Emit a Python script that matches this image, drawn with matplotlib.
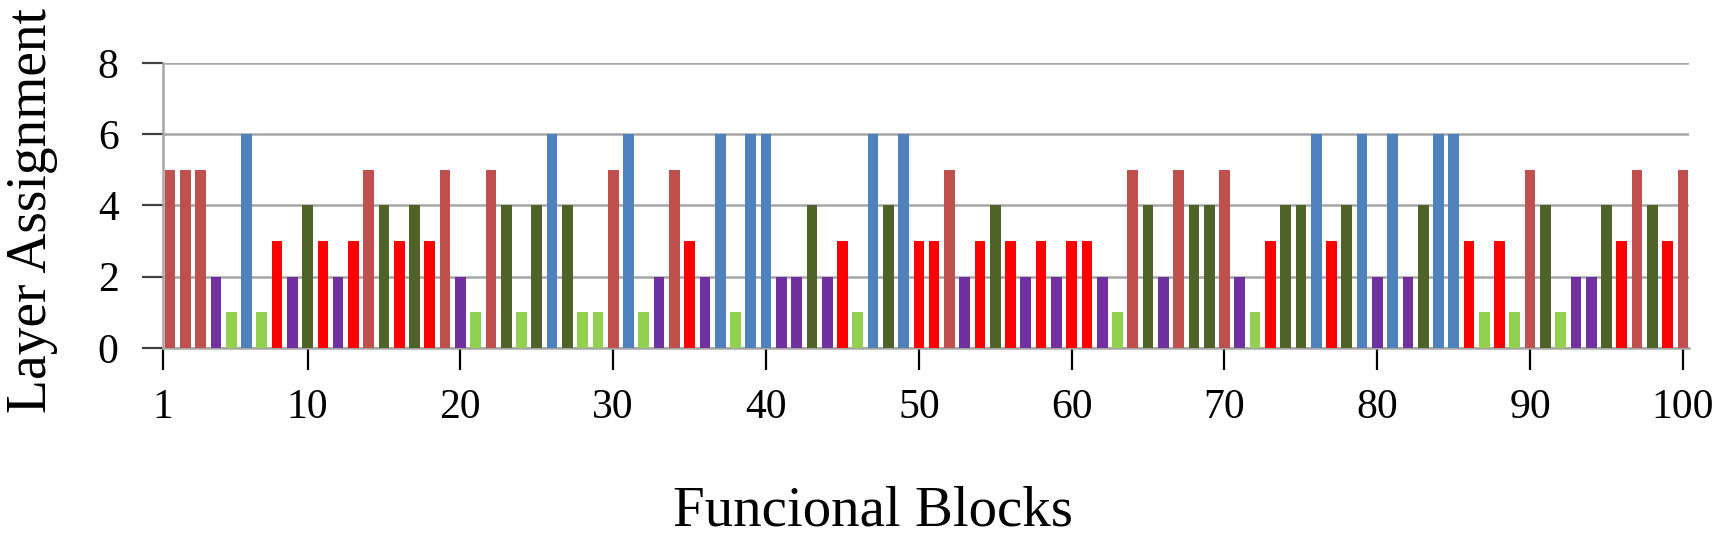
import numpy as np
import matplotlib
matplotlib.use("Agg")
import matplotlib.pyplot as plt

# layer assigned to each of the 100 functional blocks
block_ids = list(range(1, 101))
layers = [
    5, 5, 5, 2, 1, 6, 1, 3, 2, 4,
    3, 2, 3, 5, 4, 3, 4, 3, 5, 2,
    1, 5, 4, 1, 4, 6, 4, 1, 1, 5,
    6, 1, 2, 5, 3, 2, 6, 1, 6, 6,
    2, 2, 4, 2, 3, 1, 6, 4, 6, 3,
    3, 5, 2, 3, 4, 3, 2, 3, 2, 3,
    3, 2, 1, 5, 4, 2, 5, 4, 4, 5,
    2, 1, 3, 4, 4, 6, 3, 4, 6, 2,
    6, 2, 4, 6, 6, 3, 1, 3, 1, 5,
    4, 1, 2, 2, 4, 3, 5, 4, 3, 5,
]
x_tick_labels = ["1", "10", "20", "30", "40", "50", "60", "70", "80", "90", "100"]
y_ticks = [0, 2, 4, 6, 8]

# one colour per layer, office-style palette
LAYER_COLORS = {
    1: "#92D050",
    2: "#7030A0",
    3: "#FF0000",
    4: "#4F6228",
    5: "#C0504D",
    6: "#4F81BD",
}

plt.rcParams["font.family"] = ["Liberation Serif", "DejaVu Serif"]

fig = plt.figure(figsize=(17.16, 5.39), dpi=100)
ax = fig.add_axes([0.0950, 0.3544, 0.8893, 0.5287])

colors = [LAYER_COLORS[v] for v in layers]
ax.bar(block_ids, layers, width=0.7, color=colors, zorder=3)

x_lo, x_hi = 0.54, 100.4
ax.set_xlim(x_lo, x_hi)
ax.set_ylim(0, 8)

# first tick sits on the axis edge, the rest on their blocks
tick_pos = [x_lo] + [int(t) for t in x_tick_labels[1:]]
ax.set_xticks(tick_pos)
ax.set_xticklabels(x_tick_labels)
ax.set_yticks(y_ticks)

ax.yaxis.grid(True, color="#A6A6A6", linewidth=1.8, zorder=0)
ax.set_axisbelow(True)

for side in ("top", "right"):
    ax.spines[side].set_visible(False)
ax.spines["left"].set_color("#A6A6A6")
ax.spines["left"].set_linewidth(1.8)
ax.spines["bottom"].set_color("#A6A6A6")
ax.spines["bottom"].set_linewidth(1.8)

ax.tick_params(axis="x", direction="out", length=16, width=1.6, color="black",
               pad=13, labelsize=30)
ax.tick_params(axis="y", direction="out", length=15, width=1.6, color="#404040",
               pad=17, labelsize=30)

fig.text(873 / 1716, 1 - 525 / 539, "Funcional Blocks", fontsize=41,
         ha="center", va="baseline")
fig.text(6 / 1716, 1 - 413 / 539, "Layer Assignment", fontsize=40,
         rotation=90, ha="left", va="bottom")

fig.savefig("out.png", dpi=100)
